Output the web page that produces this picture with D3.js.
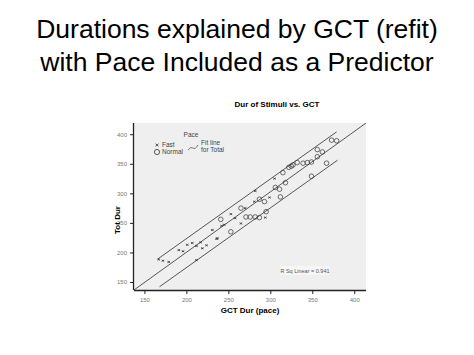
<!DOCTYPE html>
<html><head><meta charset="utf-8">
<script src="https://cdn.jsdelivr.net/npm/d3@7"></script>
<style>body{margin:0;background:#fff}svg{display:block}</style>
</head><body>
<svg id="c" width="474" height="355"></svg>
<script>
const titleLines = ["Durations explained by GCT (refit)", "with Pace Included as a Predictor"];
const chartTitle = "Dur of Stimuli vs. GCT";
const xLabel = "GCT Dur (pace)";
const yLabel = "Tot Dur";
const xTicks = [150, 200, 250, 300, 350, 400];
const yTicks = [150, 200, 250, 300, 350, 400];
const fastX = [167,172,179,191,196,201,207,212,217,219,224,231,236,237,212,242,245,253,270,281,282,299,294,265,305,258];
const fastY = [188,186,184,204,202,213,216,211,217,207,212,238,223,224,187,245,247,265,275,286,304,293,259,249,325,258];
const normalX = [241,253,265,271,276,287,287,293,295,306,311,312,318,315,322,325,327,332,339,344,349,356,356,362,367,373,379,349,282];
const normalY = [256,235,275,260,260,259,290,286,269,310,307,294,318,335,344,346,348,352,351,352,353,362,374,370,351,390,389,329,260];
const fitLineX = [137.6, 414];
const fitLineY = [136.5, 419];
const upperX = [166, 379];
const upperY = [189, 404];
const lowerX = [168, 380];
const lowerY = [142, 356];
const legendTitle = "Pace";
const legendItems = ["Fast", "Normal"];
const fitLegend = ["Fit line", "for Total"];
const rsq = "R Sq Linear = 0.941";

const svg = d3.select("#c");
const font = "'Liberation Sans', Arial, sans-serif";

svg.selectAll("text.t").data(titleLines).enter().append("text")
  .attr("x", 237).attr("y", (d,i)=>38 + i*33)
  .attr("text-anchor","middle").attr("font-family",font).attr("font-size",26.5)
  .attr("fill","#000").text(d=>d);

const L=134, R=366, T=123, B=290;
const x = d3.scaleLinear().domain([137.6, 414]).range([L, R]);
const y = d3.scaleLinear().domain([136.5, 419]).range([B, T]);

svg.append("rect").attr("x",L).attr("y",T).attr("width",R-L).attr("height",B-T).attr("fill","#efefef");

svg.append("text").attr("x",277).attr("y",107).attr("text-anchor","middle")
  .attr("font-family",font).attr("font-weight","bold").attr("font-size",8).text(chartTitle);

const clip = svg.append("clipPath").attr("id","pc").append("rect").attr("x",L).attr("y",T).attr("width",R-L).attr("height",B-T);
const g = svg.append("g").attr("clip-path","url(#pc)");

const line = d3.line().x(d=>x(d[0])).y(d=>y(d[1]));
[[fitLineX,fitLineY],[upperX,upperY],[lowerX,lowerY]].forEach(([xs,ys])=>{
  g.append("path").attr("d", line(xs.map((v,i)=>[v,ys[i]]))).attr("stroke","#444").attr("stroke-width",0.9).attr("fill","none");
});

normalX.forEach((v,i)=>{
  g.append("circle").attr("cx",x(v)).attr("cy",y(normalY[i])).attr("r",2.3)
    .attr("fill","none").attr("stroke","#333").attr("stroke-width",0.7);
});
fastX.forEach((v,i)=>{
  const cx=x(v), cy=y(fastY[i]);
  g.append("path").attr("d",`M${cx-1.3},${cy-0.8}L${cx+1.3},${cy+0.8}M${cx-1.3},${cy+0.8}L${cx+1.3},${cy-0.8}`)
    .attr("stroke","#333").attr("stroke-width",0.8);
});

const xa = svg.append("g").attr("transform",`translate(0,${B})`)
  .call(d3.axisBottom(x).tickValues(xTicks).tickSize(4).tickSizeOuter(0));
xa.select(".domain").attr("stroke","#222").attr("stroke-width",1.3).attr("d",`M${L},0.5H${R}`);
xa.selectAll("text").attr("font-size",6).attr("fill","#777").attr("font-family",font).attr("dy","0.9em");
xa.selectAll(".tick line").attr("stroke","#222");

const ya = svg.append("g").attr("transform",`translate(${L},0)`)
  .call(d3.axisLeft(y).tickValues(yTicks).tickSize(4).tickSizeOuter(0));
ya.select(".domain").attr("stroke","#222").attr("stroke-width",1.3).attr("d",`M-0.5,${T}V${B}`);
ya.selectAll("text").attr("font-size",6).attr("fill","#777").attr("font-family",font);
ya.selectAll(".tick line").attr("stroke","#222");

svg.append("text").attr("x",250).attr("y",313).attr("text-anchor","middle")
  .attr("font-family",font).attr("font-weight","bold").attr("font-size",8).text(xLabel);
svg.append("text").attr("transform","translate(120,220) rotate(-90)").attr("text-anchor","middle")
  .attr("font-family",font).attr("font-weight","bold").attr("font-size",8).text(yLabel);

// legend
svg.append("text").attr("x",191).attr("y",137).attr("text-anchor","middle")
  .attr("font-family",font).attr("font-size",6.5).attr("fill","#444").text(legendTitle);
legendItems.forEach((d,i)=>{
  const ly = 145 + i*7;
  if(i===0){
    svg.append("path").attr("d",`M${157-1.5},${ly-1.3}L${157+1.5},${ly+1.3}M${157-1.5},${ly+1.3}L${157+1.5},${ly-1.3}`).attr("stroke","#333").attr("stroke-width",0.8);
  } else {
    svg.append("circle").attr("cx",157).attr("cy",ly).attr("r",2.6).attr("fill","none").attr("stroke","#333").attr("stroke-width",0.8);
  }
  svg.append("text").attr("x",162).attr("y",ly+2).attr("font-family",font).attr("font-size",6.5).attr("fill","#444").text(d);
});
svg.append("path").attr("d","M188,150 Q191,146 193,148 T198,145").attr("stroke","#444").attr("fill","none").attr("stroke-width",0.7);
fitLegend.forEach((d,i)=>{
  svg.append("text").attr("x",201).attr("y",145+i*6.5).attr("font-family",font).attr("font-size",6.5).attr("fill","#444").text(d);
});
svg.append("rect").attr("x",280).attr("y",266).attr("width",50).attr("height",9).attr("fill","#f6f6f6");
svg.append("text").attr("x",305).attr("y",273).attr("text-anchor","middle").attr("font-family",font).attr("font-size",5.5).attr("fill","#555").text(rsq);
</script>
</body></html>
